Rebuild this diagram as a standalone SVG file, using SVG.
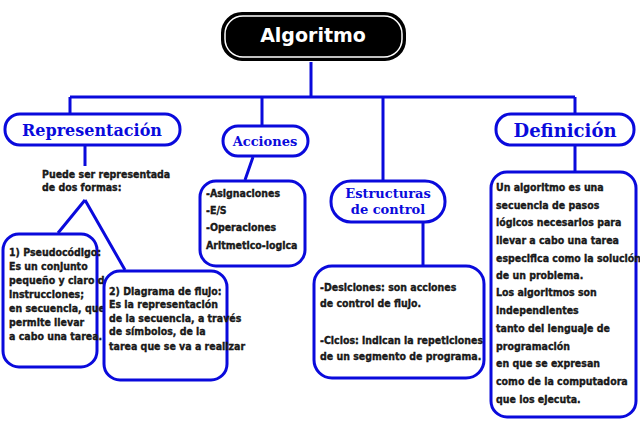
<svg xmlns="http://www.w3.org/2000/svg" width="640" height="445" viewBox="0 0 640 445">
<style>
.box{fill:#fff;stroke:#0a0adc;stroke-width:3}
.ln{stroke:#0a0adc;stroke-width:3;fill:none}
.hd{font-family:"DejaVu Serif",serif;font-weight:bold;fill:#0a0adc;text-anchor:middle}
.tx{font-family:"DejaVu Sans Condensed","DejaVu Sans",sans-serif;font-weight:bold;font-size:10.5px;fill:#222;stroke:#000;stroke-width:0.3}
</style>
<rect width="640" height="445" fill="#fff"/>
<g id="connectors">
<path class="ln" d="M311 62V97M70 97H575M70 97V113M262 97V125M383 97V180M575 97V113"/>
<path class="ln" d="M85 145V166M253 157L245 180M423 222V265M575 145V172M85 200L58 233M85 200L125 270"/>
</g>
<g id="algoritmo">
<rect x="222" y="13" width="183" height="47" rx="20" fill="#000" stroke="#000" stroke-width="2"/>
<rect x="225" y="16" width="177" height="41" rx="18" fill="none" stroke="#fff" stroke-width="1.5"/>
<text x="313" y="42" font-family="DejaVu Sans,sans-serif" font-weight="bold" font-size="19" fill="#fff" text-anchor="middle">Algoritmo</text>
</g>
<g id="representacion">
<rect class="box" x="5" y="114" width="175" height="31" rx="15"/>
<text class="hd" x="92" y="136" font-size="16">Representación</text>
</g>
<g id="acciones">
<rect class="box" x="223" y="126" width="85" height="30" rx="15"/>
<text class="hd" x="265" y="146" font-size="13">Acciones</text>
</g>
<g id="definicion">
<rect class="box" x="496" y="114" width="138" height="31" rx="15"/>
<text class="hd" x="565" y="137" font-size="18">Definición</text>
</g>
<g id="puede">
<text class="tx" x="42" y="178">Puede ser representada</text>
<text class="tx" x="42" y="191">de dos formas:</text>
</g>
<g id="pseudocodigo">
<rect class="box" x="3" y="234" width="94" height="133" rx="16"/>
<text class="tx" x="9" y="256">1) Pseudocódigo:</text>
<text class="tx" x="9" y="270">Es un conjunto</text>
<text class="tx" x="9" y="284">pequeño y claro de</text>
<text class="tx" x="9" y="298">instrucciones;</text>
<text class="tx" x="9" y="312">en secuencia, que</text>
<text class="tx" x="9" y="326">permite llevar</text>
<text class="tx" x="9" y="340">a cabo una tarea.</text>
</g>
<g id="diagrama">
<rect class="box" x="104" y="271" width="123" height="109" rx="16"/>
<text class="tx" x="109" y="295">2) Diagrama de flujo:</text>
<text class="tx" x="109" y="308">Es la representación</text>
<text class="tx" x="109" y="322">de la secuencia, a través</text>
<text class="tx" x="109" y="335">de símbolos, de la</text>
<text class="tx" x="109" y="350">tarea que se va a realizar</text>
</g>
<g id="lista-acciones">
<rect class="box" x="200" y="181" width="105" height="85" rx="16"/>
<text class="tx" x="206" y="197">-Asignaciones</text>
<text class="tx" x="206" y="214">-E/S</text>
<text class="tx" x="206" y="231">-Operaciones</text>
<text class="tx" x="206" y="249">Aritmetico-logica</text>
</g>
<g id="estructuras">
<rect class="box" x="331" y="181" width="114" height="41" rx="20"/>
<text class="hd" x="388" y="198" font-size="13">Estructuras</text>
<text class="hd" x="388" y="214" font-size="13">de control</text>
</g>
<g id="control">
<rect class="box" x="314" y="266" width="170" height="112" rx="18"/>
<text class="tx" x="320" y="291">-Desiciones: son acciones</text>
<text class="tx" x="320" y="307">de control de flujo.</text>
<text class="tx" x="320" y="344">-Ciclos: indican la repeticiones</text>
<text class="tx" x="320" y="360">de un segmento de programa.</text>
</g>
<g id="definicion-texto">
<rect class="box" x="491" y="172" width="145" height="245" rx="16"/>
<text class="tx" x="496" y="191">Un algoritmo es una</text>
<text class="tx" x="496" y="209">secuencia de pasos</text>
<text class="tx" x="496" y="226">lógicos necesarios para</text>
<text class="tx" x="496" y="244">llevar a cabo una tarea</text>
<text class="tx" x="496" y="262">especifica como la solución</text>
<text class="tx" x="496" y="279">de un problema.</text>
<text class="tx" x="496" y="296">Los algoritmos son</text>
<text class="tx" x="496" y="314">independientes</text>
<text class="tx" x="496" y="332">tanto del lenguaje de</text>
<text class="tx" x="496" y="350">programación</text>
<text class="tx" x="496" y="367">en que se expresan</text>
<text class="tx" x="496" y="385">como de la computadora</text>
<text class="tx" x="496" y="403">que los ejecuta.</text>
</g>
</svg>
